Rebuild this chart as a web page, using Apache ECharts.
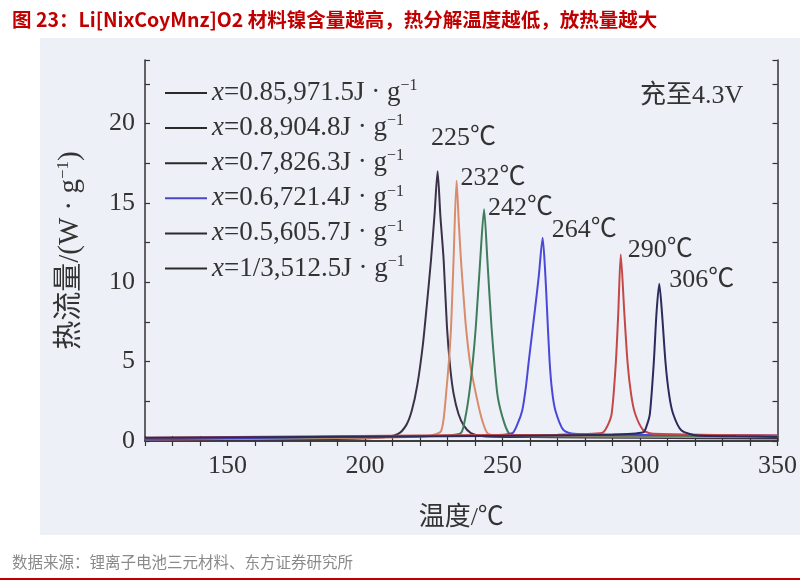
<!DOCTYPE html>
<html>
<head>
<meta charset="utf-8">
<script src="https://cdn.jsdelivr.net/npm/echarts@6/dist/echarts.min.js"></script>
<style>html,body{margin:0;padding:0;background:#fff;}#c{width:800px;height:581px;}</style>
</head>
<body>
<div id="c"></div>
<script>
// ---- data ----
var niRatios = ['0.85', '0.8', '0.7', '0.6', '0.5', '1/3'];
var heats = ['971.5', '904.8', '826.3', '721.4', '605.7', '512.5'];
var peakLabels = ['225℃', '232℃', '242℃', '264℃', '290℃', '306℃'];
var xTicksMajor = [150, 200, 250, 300, 350];
var yTicksMajor = [0, 5, 10, 15, 20];

var curve085 = [[120,0.05],[180,0.1],[205,0.2],[212,0.45],[215,1.0],[217,1.9],[219,3.5],[221,6.0],[222.5,8.6],[224,11.4],[225.3,14.3],[226.4,17.0],[227.4,14.2],[228.6,11.4],[229.8,7.2],[231,4.6],[232.2,3.0],[234,1.7],[236,0.95],[238.5,0.5],[243,0.3],[260,0.25],[300,0.2],[350,0.15]];
var curve080 = [[120,0.1],[200,0.2],[222,0.3],[226,0.45],[227.6,0.6],[228.6,1.4],[229.5,3.0],[230.5,5.0],[231.3,7.2],[232.2,11.4],[233.3,16.4],[234.1,13.8],[234.9,11.4],[235.8,9.2],[236.7,7.2],[238.3,4.8],[240.3,3.0],[242.3,1.5],[244.5,0.5],[248,0.35],[270,0.3],[350,0.25]];
var curve070 = [[120,0.15],[200,0.25],[230,0.35],[234.9,0.5],[236.5,1.5],[237.9,3.0],[239.2,5.0],[240.3,7.2],[241.9,11.4],[243.3,14.6],[244.5,11.4],[246,7.2],[248.1,3.0],[250,1.5],[252.3,0.5],[256,0.35],[280,0.35],[350,0.3]];
var curve060 = [[120,0.1],[200,0.3],[245,0.35],[253.5,0.49],[255.5,1.1],[257.2,1.94],[258.5,3.4],[259.6,5.1],[261.8,8.27],[263.2,10.4],[264.6,12.8],[265.6,10.4],[266.2,8.27],[267.1,5.1],[268,3.2],[269.2,1.94],[272.2,0.68],[276,0.45],[300,0.4],[350,0.35]];
var curve050 = [[120,0.2],[220,0.35],[270,0.4],[286.1,0.5],[288,0.9],[289.7,1.73],[291.2,4.9],[292.1,8.06],[293,11.75],[294.3,8.06],[295.5,4.9],[296.8,2.9],[298.2,1.73],[301.2,0.68],[305,0.45],[350,0.35]];
var curve033 = [[120,0.2],[230,0.3],[290,0.4],[301.2,0.55],[302.5,1.0],[303.6,1.73],[305,4.9],[306,8.06],[307,9.9],[308,8.06],[309.3,4.9],[310.6,2.9],[312,1.73],[315,0.68],[321,0.35],[335,0.3],[350,0.25]];

var curves = [curve085, curve080, curve070, curve060, curve050, curve033];
var colors = ['#3b3247', '#d98c6c', '#3f7d5c', '#4a48d8', '#c44848', '#2b2b5c'];
var legendColors = ['#2a2a2a', '#2a2a2a', '#2a2a2a', '#4a48c8', '#2a2a2a', '#2a2a2a'];
var labelOffsets = [[26, -16], [0, -2], [0, -1], [5, -8], [3, -4], [6, -4]];
var labelPos = ['top', 'right', 'right', 'right', 'right', 'right'];

var SERIF = '"Liberation Serif", "Times New Roman", "Noto Sans CJK SC", serif';
var CJK = '"Liberation Serif", "Noto Sans CJK SC", sans-serif';

function seriesName(i) { return 'x=' + niRatios[i] + ',' + heats[i] + 'J · g-1'; }

var series = curves.map(function (c, i) {
  var maxIdx = 0;
  c.forEach(function (p, k) { if (p[1] > c[maxIdx][1]) maxIdx = k; });
  return {
    name: seriesName(i), type: 'line', data: c, showSymbol: false, symbol: 'none',
    smooth: 0.25, lineStyle: { color: colors[i], width: 2 }, itemStyle: { color: colors[i] },
    z: 3 + i, animation: false,
    markPoint: {
      silent: true, symbol: 'circle', symbolSize: 0, animation: false,
      data: [{
        coord: c[maxIdx],
        label: {
          show: true, formatter: peakLabels[i], position: labelPos[i], offset: labelOffsets[i],
          fontFamily: SERIF, fontSize: 26, color: '#333', distance: 4
        }
      }]
    }
  };
});

var chart = echarts.init(document.getElementById('c'));
var axisLineStyle = { color: '#333', width: 1.5 };
chart.setOption({
  animation: false,
  backgroundColor: '#fff',
  title: {
    text: '图 23：Li[NixCoyMnz]O2 材料镍含量越高，热分解温度越低，放热量越大',
    left: 7, top: 5,
    textStyle: { color: '#c00000', fontSize: 19.5, fontWeight: 'bold', fontFamily: '"Noto Sans CJK SC", sans-serif' }
  },
  graphic: [
    { type: 'rect', left: 40, top: 38, z: -10, shape: { width: 760, height: 497 }, style: { fill: '#edf0f7' } },
    { type: 'text', left: 640, top: 83, style: { text: '充至4.3V', font: '26px ' + CJK, fill: '#333' } },
    { type: 'text', left: 12, top: 554, style: { text: '数据来源：锂离子电池三元材料、东方证券研究所', font: '15.5px "Noto Sans CJK SC", sans-serif', fill: '#8a8a8a' } },
    { type: 'line', shape: { x1: 0, y1: 579, x2: 800, y2: 579 }, style: { stroke: '#c00000', lineWidth: 2 } }
  ],
  legend: {
    orient: 'vertical', left: 160, top: 73, itemWidth: 42, itemHeight: 2, icon: 'rect', itemGap: 6.6,
    data: curves.map(function (c, i) { return { name: seriesName(i), itemStyle: { color: legendColors[i] } }; }),
    formatter: function (name) {
      var i = 0;
      for (var k = 0; k < niRatios.length; k++) if (seriesName(k) === name) i = k;
      return '{i|x}{n|=' + niRatios[i] + ',' + heats[i] + 'J · g}{s|−1}';
    },
    textStyle: {
      color: '#333',
      rich: {
        i: { fontFamily: SERIF, fontStyle: 'italic', fontSize: 27, color: '#333', lineHeight: 30 },
        n: { fontFamily: SERIF, fontSize: 27, color: '#333', lineHeight: 30 },
        s: { fontFamily: SERIF, fontSize: 16, color: '#333', verticalAlign: 'top', lineHeight: 18 }
      }
    },
    selectedMode: false
  },
  grid: { left: 145, right: 18, top: 60, bottom: 140, containLabel: false },
  xAxis: [
    {
      type: 'value', min: 120, max: 350, interval: 10, position: 'bottom',
      axisLine: { show: true, lineStyle: axisLineStyle },
      axisTick: { show: true, inside: true, length: 5, lineStyle: { color: '#333', width: 1.2 } },
      axisLabel: {
        formatter: function (v) { return xTicksMajor.indexOf(v) >= 0 ? String(v) : ''; },
        fontFamily: SERIF, fontSize: 26, color: '#333', margin: 12
      },
      splitLine: { show: false },
      name: '温度/℃', nameLocation: 'middle', nameGap: 64,
      nameTextStyle: { fontFamily: CJK, fontSize: 26, color: '#333' }
    },
    {
      type: 'value', min: 120, max: 350, interval: 10, position: 'top',
      axisLine: { show: true, lineStyle: axisLineStyle },
      axisTick: { show: true, inside: true, length: 5, lineStyle: { color: '#333', width: 1.2 } },
      axisLabel: { show: false }, splitLine: { show: false }
    }
  ],
  yAxis: [
    {
      type: 'value', min: 0, max: 24, interval: 2.5, position: 'left',
      axisLine: { show: true, lineStyle: axisLineStyle },
      axisTick: { show: true, inside: true, length: 5, lineStyle: { color: '#333', width: 1.2 } },
      axisLabel: {
        formatter: function (v) { return yTicksMajor.indexOf(v) >= 0 ? String(v) : ''; },
        fontFamily: SERIF, fontSize: 26, color: '#333', margin: 10
      },
      splitLine: { show: false },
      name: '{a|热流量/(W · g}{s|−1}{a|)}', nameLocation: 'middle', nameGap: 60, nameRotate: 90,
      nameTextStyle: {
        rich: {
          a: { fontFamily: CJK, fontSize: 29, color: '#333', lineHeight: 30 },
          s: { fontFamily: SERIF, fontSize: 17, color: '#333', verticalAlign: 'top', lineHeight: 18 }
        }
      }
    },
    {
      type: 'value', min: 0, max: 24, interval: 2.5, position: 'right',
      axisLine: { show: true, lineStyle: axisLineStyle },
      axisTick: { show: true, inside: true, length: 5, lineStyle: { color: '#333', width: 1.2 } },
      axisLabel: { show: false }, splitLine: { show: false }
    }
  ],
  series: series
});
</script>
</body>
</html>
